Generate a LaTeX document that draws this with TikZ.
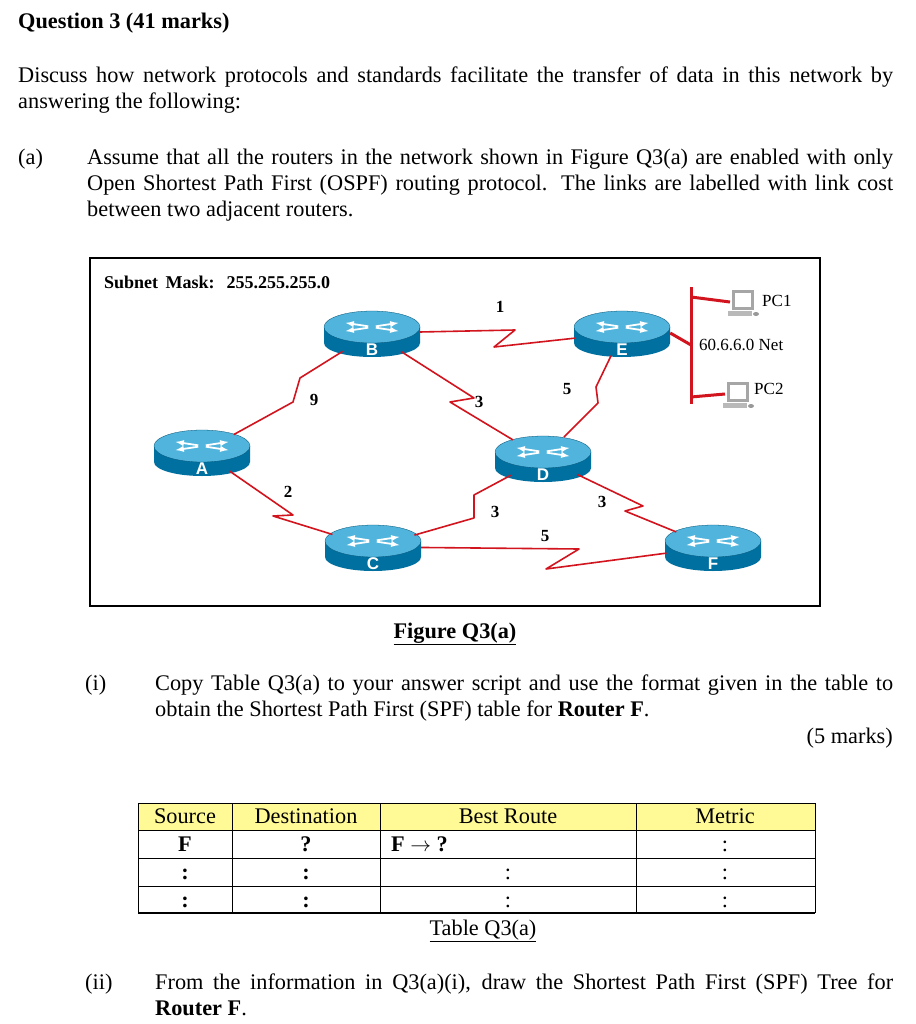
\documentclass[tikz,border=0pt]{standalone}
\usepackage{fontspec}
\setmainfont{Liberation Serif}
\newfontfamily\lsans{Liberation Sans}
\usetikzlibrary{shapes.geometric,calc}
\definecolor{rside}{RGB}{0,112,160}
\definecolor{rtop}{RGB}{80,180,220}
\definecolor{lnk}{RGB}{210,20,30}
\definecolor{hdr}{RGB}{255,250,150}
\tikzset{
 txt/.style={anchor=base west,inner sep=0,font=\fontsize{22.3}{26}\selectfont},
 lnkline/.style={draw=lnk,line width=1.6pt,line join=round},
 cost/.style={font=\bfseries\fontsize{17}{17}\selectfont,inner sep=0},
 cell/.style={font=\fontsize{22.3}{26}\selectfont,inner sep=0,anchor=base},
 rnode/.style={ellipse,minimum width=96pt,minimum height=46pt,inner sep=0},
}
\newcommand\myrouter[4]{% name,x,y,label
 \begin{scope}[shift={(#2,#3)}]
  \fill[rside] (-48,-6) -- (-48,10) arc[start angle=180,end angle=0,x radius=48,y radius=14] -- (48,-6) -- cycle;
  \fill[rtop,draw=rside!70!black,line width=0.3pt] (0,-6) ellipse[x radius=48,y radius=16];
  \foreach \a in {20,160,200,340}{
   \draw[white,line width=1.8pt,-latex] (\a:4 and 2) ++(0,-6) -- ++(\a:24 and 10);}
  \node[white,font=\lsans\bfseries\fontsize{17}{17}\selectfont] at (0,17) {#4};
 \end{scope}
 \node[rnode] (#1) at (#2,#3) {};
}
\newcommand\mypc[3]{%
 \begin{scope}[shift={(#2,#3)}]
  \fill[gray!70] (-10,-12) rectangle (12,8);
  \fill[white] (-7,-9) rectangle (9,5);
  \fill[gray!55] (-14,9) rectangle (10,14);
  \fill[gray!80] (14,12) ellipse[x radius=3,y radius=2];
 \end{scope}
 \coordinate (#1) at (#2-12,#3);
}
\begin{document}
\begin{tikzpicture}[x=1pt,y=-1pt]
\useasboundingbox (0,0) rectangle (915,1024);
\fill[white] (0,0) rectangle (915,1024);
\node[txt,font=\bfseries\fontsize{22.3}{26}\selectfont] (q) at (18,29) {Question 3 (41 marks)};
\node[txt] (l1) at (18,83) {\hbox to 875pt{Discuss how network protocols and standards facilitate the transfer of data in this network by}};
\node[txt] (l2) at (18,109) {answering the following:};
\node[txt] (pa) at (18,165) {(a)};
\node[txt] (a1) at (87,165) {\hbox to 806pt{Assume that all the routers in the network shown in Figure Q3(a) are enabled with only}};
\node[txt] (a2) at (87,191) {\hbox to 806pt{Open Shortest Path First (OSPF) routing protocol. The links are labelled with link cost}};
\node[txt] (a3) at (87,217) {between two adjacent routers.};
% figure frame
\draw[line width=1.2pt] (90,258) rectangle (820,606);
\node[anchor=base west,inner sep=0,font=\bfseries\fontsize{18}{18}\selectfont] (sm) at (104,288) {\hbox to 226pt{Subnet Mask: 255.255.255.0}};
% routers
\myrouter{A}{202}{452}{A}
\myrouter{B}{372}{333}{B}
\myrouter{C}{373}{547}{C}
\myrouter{D}{543}{458}{D}
\myrouter{E}{622}{333}{E}
\myrouter{F}{713}{547}{F}
% zig coordinates
\coordinate (ab1) at (293,402); \coordinate (ab2) at (300,378);
\coordinate (be1) at (515,330); \coordinate (be2) at (494,347);
\coordinate (bd1) at (474,398); \coordinate (bd2) at (450,402);
\coordinate (de1) at (598,403); \coordinate (de2) at (596,387);
\coordinate (ac1) at (293,515); \coordinate (ac2) at (273,516);
\coordinate (cd1) at (474,518); \coordinate (cd2) at (474,495);
\coordinate (cf1) at (579,549); \coordinate (cf2) at (546,569);
\coordinate (df1) at (643,506); \coordinate (df2) at (625,511);
\draw[lnkline] (A) -- (ab1) -- (ab2) -- (B);
\draw[lnkline] (B) -- (be1) -- (be2) -- (E);
\draw[lnkline] (B) -- (bd1) -- (bd2) -- (D);
\draw[lnkline] (D) -- (de1) -- (de2) -- (E);
\draw[lnkline] (A) -- (ac1) -- (ac2) -- (C);
\draw[lnkline] (C) -- (cd1) -- (cd2) -- (D);
\draw[lnkline] (C) -- (cf1) -- (cf2) -- (F);
\draw[lnkline] (D) -- (df1) -- (df2) -- (F);
\node[cost] (c9) at (314,400) {9};
\node[cost] (c1) at (500,307) {1};
\node[cost] (c3a) at (479,402) {3};
\node[cost] (c5a) at (567,389) {5};
\node[cost] (c2) at (288,492) {2};
\node[cost] (c3b) at (495,512) {3};
\node[cost] (c5b) at (545,536) {5};
\node[cost] (c3c) at (602,502) {3};
% LAN
\coordinate (bt) at (691,287); \coordinate (bb) at (691,404);
\draw[lnk,line width=3pt] (bt) -- (bb);
\mypc{pc1}{742}{302}
\mypc{pc2}{737}{394}
\draw[lnk,line width=3pt] (691,297) -- (pc1);
\draw[lnk,line width=3pt] (691,397) -- (pc2);
\draw[lnk,line width=3pt] (E.east) -- (691,345);
\node[anchor=base west,inner sep=0,font=\fontsize{17}{17}\selectfont] (p1) at (762,306) {PC1};
\node[anchor=base west,inner sep=0,font=\fontsize{17}{17}\selectfont] (net) at (699,350) {60.6.6.0 Net};
\node[anchor=base west,inner sep=0,font=\fontsize{17}{17}\selectfont] (p2) at (754,394) {PC2};
\node[cell,font=\bfseries\fontsize{22.3}{26}\selectfont] (fig) at (455,638) {\underline{Figure Q3(a)}};
% (i)
\node[txt] (pi) at (85,690) {(i)};
\node[txt] (i1) at (155,690) {\hbox to 738pt{Copy Table Q3(a) to your answer script and use the format given in the table to}};
\node[txt] (i2) at (155,716) {obtain the Shortest Path First (SPF) table for \textbf{Router F}.};
\node[txt,anchor=base east] (mk) at (893,743) {(5 marks)};
% table
\fill[hdr] (138,803) rectangle (815,830);
\draw[line width=0.8pt] (138,803) -- (815,803);
\foreach \y in {830,858,886}{\draw[line width=0.6pt] (138,\y) -- (815,\y);}
\draw[line width=1.2pt] (138,913) -- (815,913);
\foreach \x in {138,232,380,636,815}{\draw[line width=0.6pt] (\x,803) -- (\x,913);}
\node[cell] (h1) at (185,823) {Source};
\node[cell] (h2) at (306,823) {Destination};
\node[cell] (h3) at (508,823) {Best Route};
\node[cell] (h4) at (725,823) {Metric};
\node[cell,font=\bfseries\fontsize{22.3}{26}\selectfont] (r1a) at (185,851) {F};
\node[cell,font=\bfseries\fontsize{22.3}{26}\selectfont] (r1b) at (306,851) {?};
\node[cell,anchor=base west,font=\bfseries\fontsize{22.3}{26}\selectfont] (r1c) at (391,851) {F $\rightarrow$ ?};
\node[cell] (r1d) at (725,851) {:};
\foreach \y/\n in {879/2,907/3}{
 \node[cell,font=\bfseries\fontsize{22.3}{26}\selectfont] (r\n a) at (185,\y) {:};
 \node[cell,font=\bfseries\fontsize{22.3}{26}\selectfont] (r\n b) at (306,\y) {:};
 \node[cell] (r\n c) at (508,\y) {:};
 \node[cell] (r\n d) at (725,\y) {:};}
\node[cell] (tc) at (483,935) {\underline{Table Q3(a)}};
% (ii)
\node[txt] (pii) at (85,989) {(ii)};
\node[txt] (ii1) at (155,989) {\hbox to 738pt{From the information in Q3(a)(i), draw the Shortest Path First (SPF) Tree for}};
\node[txt] (ii2) at (155,1015) {\textbf{Router F}.};
\end{tikzpicture}
\end{document}
